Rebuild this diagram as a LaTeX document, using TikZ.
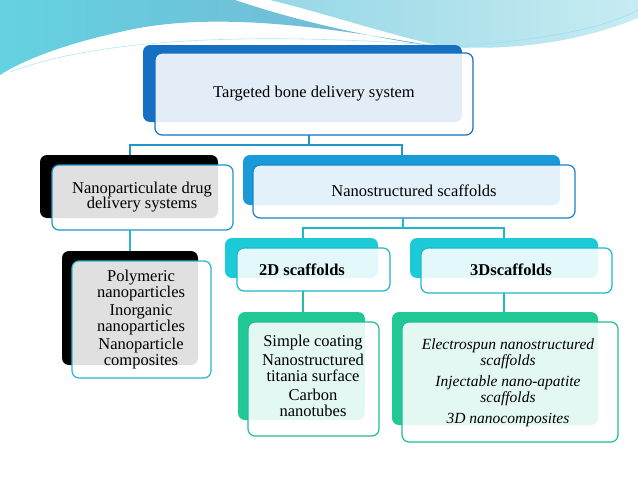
\documentclass[tikz,border=0pt]{standalone}
\usepackage{fontspec}
\setmainfont{Liberation Serif}
\begin{document}
\begin{tikzpicture}[x=1pt,y=-1pt,
  back/.style={rounded corners=7pt},
  front/.style={rounded corners=7pt,fill=white,fill opacity=0.88,line width=1.2pt},
  lbl/.style={align=center,font=\fontsize{16.5}{16}\selectfont,text=black},
  conn/.style={line width=1.3pt}]
\useasboundingbox (0,0) rectangle (638,479);
\fill[white] (0,0) rectangle (638,479);
% waves
\shade[left color={rgb,255:red,150;green,215;blue,230},right color={rgb,255:red,200;green,236;blue,242}]
  (270,0) -- (638,0) -- (638,18) .. controls (580,42) and (510,52) .. (440,46) .. controls (380,32) and (320,12) .. (270,0) -- cycle;
\shade[left color={rgb,255:red,100;green,210;blue,225},right color={rgb,255:red,120;green,180;blue,210}]
  (0,0) -- (235,0) .. controls (300,22) and (380,40) .. (460,50) .. controls (380,38) and (230,5) .. (120,32) .. controls (60,45) and (20,62) .. (0,75) -- cycle;
\draw[cyan!30,line width=0.6pt] (10,72) .. controls (120,30) and (320,35) .. (470,48);
\draw[cyan!40,line width=0.6pt] (450,47) .. controls (540,40) and (600,30) .. (638,10);
% top box
\fill[back,fill={rgb,255:red,21;green,111;blue,195}] (143,45) rectangle (462,122);
\draw[front,draw={rgb,255:red,21;green,111;blue,195}] (155,53) rectangle (473,135);
\node[lbl] (top) at (314,94) {Targeted bone delivery system};
\coordinate (topb) at (309,135);
% nano drug
\fill[back,fill=black] (40,155) rectangle (218,218);
\draw[front,draw={rgb,255:red,30;green,150;blue,200}] (52,165) rectangle (233,230);
\node[lbl] (drug) at (142,197) {Nanoparticulate drug\\[-1pt]delivery systems};
\coordinate (drugt) at (130,155); \coordinate (drugb) at (130,230);
% nanostructured scaffolds
\fill[back,fill={rgb,255:red,26;green,154;blue,214}] (243,155) rectangle (560,205);
\draw[front,draw={rgb,255:red,26;green,130;blue,200}] (253,165) rectangle (575,218);
\node[lbl] (ns) at (414,191) {Nanostructured scaffolds};
\coordinate (nst) at (402,155); \coordinate (nsb) at (403,218);
% polymeric
\fill[back,fill=black] (62,251) rectangle (198,365);
\draw[front,draw={rgb,255:red,40;green,184;blue,200}] (72,261) rectangle (211,378);
\node[lbl] (poly) at (141,320) {Polymeric\\nanoparticles\\[2pt]Inorganic\\nanoparticles\\[2pt]Nanoparticle\\composites};
\coordinate (polyt) at (130,251);
% 2D
\fill[back,fill={rgb,255:red,28;green,202;blue,216}] (225,238) rectangle (378,278);
\draw[front,draw={rgb,255:red,28;green,185;blue,205}] (237,248) rectangle (390,291);
\node[lbl,font=\bfseries\fontsize{16.5}{16}\selectfont] (d2) at (302,270) {2D scaffolds};
\coordinate (d2t) at (303,238); \coordinate (d2b) at (303,291);
% 3D
\fill[back,fill={rgb,255:red,28;green,202;blue,216}] (410,238) rectangle (598,278);
\draw[front,draw={rgb,255:red,28;green,185;blue,205}] (421,248) rectangle (612,293);
\node[lbl,font=\bfseries\fontsize{16.5}{16}\selectfont] (d3) at (511,270) {3Dscaffolds};
\coordinate (d3t) at (504,238); \coordinate (d3b) at (504,293);
% simple coating
\fill[back,fill={rgb,255:red,32;green,200;blue,150}] (238,312) rectangle (365,420);
\draw[front,draw={rgb,255:red,32;green,190;blue,150}] (248,322) rectangle (379,436);
\node[lbl] (sc) at (313,376) {Simple coating\\[3pt]Nanostructured\\titania surface\\[3pt]Carbon\\nanotubes};
\coordinate (sct) at (303,312);
% electrospun
\fill[back,fill={rgb,255:red,32;green,200;blue,150}] (392,312) rectangle (598,425);
\draw[front,draw={rgb,255:red,32;green,190;blue,150}] (402,322) rectangle (618,442);
\node[lbl,font=\itshape\fontsize{15.5}{16}\selectfont] (es) at (508,383) {Electrospun nanostructured\\scaffolds\\[5pt]Injectable nano-apatite\\scaffolds\\[5pt]3D nanocomposites};
\coordinate (est) at (504,312);
% connectors
\draw[conn,draw={rgb,255:red,30;green,150;blue,200}] (topb) -- (309,145) -| (drugt);
\draw[conn,draw={rgb,255:red,30;green,150;blue,200}] (309,145) -| (nst);
\draw[conn,draw={rgb,255:red,40;green,184;blue,200}] (drugb) -- (polyt);
\draw[conn,draw={rgb,255:red,28;green,185;blue,205}] (nsb) -- (403,228) -| (d2t);
\draw[conn,draw={rgb,255:red,28;green,185;blue,205}] (403,228) -| (d3t);
\draw[conn,draw={rgb,255:red,32;green,190;blue,170}] (d2b) -- (sct);
\draw[conn,draw={rgb,255:red,32;green,190;blue,170}] (d3b) -- (est);
\end{tikzpicture}
\end{document}
